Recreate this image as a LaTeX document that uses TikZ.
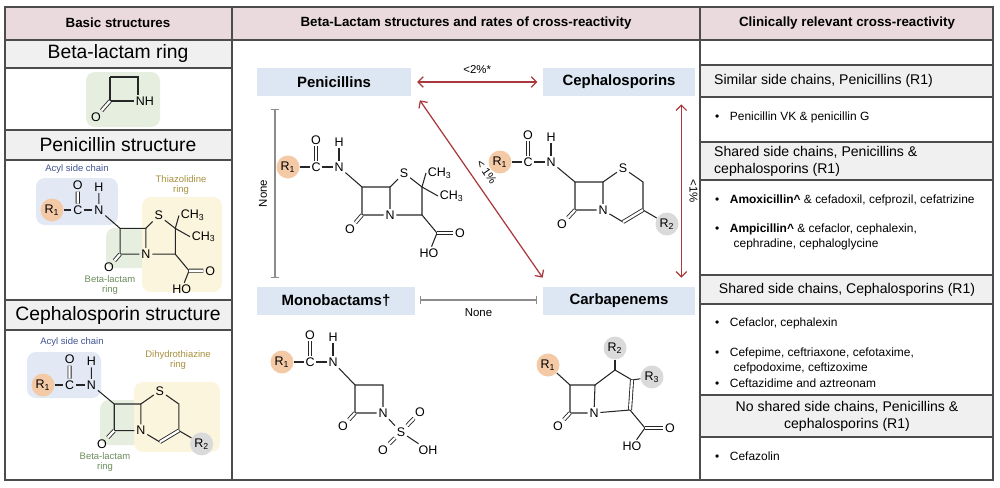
\documentclass[tikz,border=0pt]{standalone}
\usepackage{fontspec}
\setmainfont{Liberation Sans}
\usetikzlibrary{arrows.meta}
\colorlet{frm}{black!70}
\definecolor{hdrpink}{HTML}{EADADD}
\definecolor{rowgray}{HTML}{F0F0F0}
\definecolor{boxblue}{HTML}{DCE7F3}
\definecolor{rorange}{HTML}{F3C9A6}
\definecolor{rgray}{HTML}{DADADA}
\definecolor{arrred}{HTML}{A8383C}
\definecolor{hlblue}{HTML}{E2E9F5}
\definecolor{hlgreen}{HTML}{E6EFDF}
\definecolor{hlyellow}{HTML}{FBF5DE}
\definecolor{lblblue}{HTML}{3E5291}
\definecolor{lblolive}{HTML}{A88F3E}
\definecolor{lblgreen}{HTML}{6B8C5C}

\tikzset{
  atom/.style={font=\fontsize{7.1}{7.5}\selectfont,inner sep=0.9pt},
  bond/.style={line width=0.6pt,black!85},
  dbond/.style={bond,double,double distance=1.3pt,line width=0.5pt},
  rone/.style={circle,fill=rorange,minimum size=0.46cm,inner sep=0pt,font=\fontsize{7.1}{7.5}\selectfont},
  rtwo/.style={rone,fill=rgray},
  hdr/.style={font=\fontsize{7.6}{8}\selectfont\bfseries},
  ttl/.style={font=\fontsize{11}{12}\selectfont},
  clsbox/.style={fill=boxblue,minimum height=0.56cm,font=\fontsize{8.5}{9}\selectfont\bfseries},
  rtxt/.style={font=\fontsize{8}{9.6}\selectfont,align=left},
  btxt/.style={font=\fontsize{6.8}{8.2}\selectfont,anchor=west,align=left},
  lbl/.style={font=\fontsize{5.4}{6.2}\selectfont,align=center},
  albl/.style={text=black,font=\fontsize{6.5}{7}\selectfont},
  rarrow/.style={arrred,line width=0.7pt,{Straight Barb[length=3pt]}-{Straight Barb[length=3pt]}},
  garrow/.style={black!45,line width=0.6pt,{Bar[width=4pt]}-{Bar[width=4pt]}},
}

% R1-C(=O)-N(H)- side chain, R1 at the scope origin
\newcommand{\acylgroup}[1]{%
  \node[rone] (#1r) at (0,0) {R\textsubscript{1}};
  \node[atom] (#1c) at (28,0) {C};
  \node[atom] (#1n) at (51,0) {N};
  \node[atom] (#1o) at (28,-27) {O};
  \node[atom] (#1h) at (51,-25) {H};
  \draw[bond] (#1r) -- (#1c) -- (#1n);
  \draw[bond] (#1n) -- (#1h);
  \draw[dbond] (#1c) -- (#1o);
}
\newcommand{\penicillin}[3]{%
  \begin{scope}[shift={#2},scale=#3]
    \acylgroup{#1}
    \coordinate (#1a) at (74,20);
    \coordinate (#1b) at (102,20);
    \coordinate (#1d) at (74,48);
    \coordinate (#1q) at (134,20);
    \coordinate (#1e) at (134,48);
    \coordinate (#1f) at (149,66);
    \node[atom] (#1rn) at (102,48) {N};
    \node[atom] (#1ko) at (62,62) {O};
    \node[atom] (#1s) at (116,6) {S};
    \node[atom,anchor=west] (#1m) at (138,6) {CH\textsubscript{3}};
    \node[atom,anchor=west] (#1mm) at (150,29) {CH\textsubscript{3}};
    \node[atom] (#1co) at (172,66) {O};
    \node[atom] (#1oh) at (141,86) {HO};
    \draw[bond] (#1n) -- (#1a) -- (#1b) -- (#1rn) -- (#1d) -- (#1a);
    \draw[dbond] (#1d) -- (#1ko);
    \draw[bond] (#1b) -- (#1s) -- (#1q) -- (#1e) -- (#1rn);
    \draw[bond] (#1q) -- (#1m.west);
    \draw[bond] (#1q) -- (#1mm.west);
    \draw[bond] (#1e) -- (#1f) -- (#1oh);
    \draw[dbond] (#1f) -- (#1co);
  \end{scope}}
\newcommand{\cephalosporin}[3]{%
  \begin{scope}[shift={#2},scale=#3]
    \acylgroup{#1}
    \coordinate (#1a) at (75,20);
    \coordinate (#1b) at (103,20);
    \coordinate (#1d) at (75,48);
    \coordinate (#1g) at (143,20);
    \coordinate (#1j) at (143,48);
    \coordinate (#1k) at (123,60);
    \node[atom] (#1rn) at (103,48) {N};
    \node[atom] (#1ko) at (62,62) {O};
    \node[atom] (#1s) at (123,6) {S};
    \node[rtwo] (#1rr) at (167,62) {R\textsubscript{2}};
    \draw[bond] (#1n) -- (#1a) -- (#1b) -- (#1rn) -- (#1d) -- (#1a);
    \draw[dbond] (#1d) -- (#1ko);
    \draw[bond] (#1b) -- (#1s) -- (#1g) -- (#1j) -- (#1rr);
    \draw[bond] (#1rn) -- (#1k);
    \draw[dbond] (#1k) -- (#1j);
  \end{scope}}

\begin{document}
\begin{tikzpicture}[x=0.02cm,y=-0.02cm]
  \useasboundingbox (0,0) rectangle (1000,487);
  % table background and rules
  \fill[hdrpink] (5,7) rectangle (993,40);
  \fill[rowgray] (5,40) rectangle (232,68);
  \fill[rowgray] (5,130) rectangle (232,160);
  \fill[rowgray] (5,300) rectangle (232,330);
  \foreach \ya/\yb in {65/97,142/180,275/304,395/437}
    \fill[rowgray] (700,\ya) rectangle (993,\yb);
  \draw[frm,line width=0.9pt] (5,7) rectangle (993,480);
  \draw[frm,line width=0.9pt] (232,7) -- (232,480) (700,7) -- (700,480);
  \foreach \y in {40,68,130,160,300,330}
    \draw[frm,line width=0.8pt] (5,\y) -- (232,\y);
  \draw[frm,line width=0.8pt] (232,40) -- (700,40);
  \foreach \y in {40,65,97,142,180,275,304,395,437}
    \draw[frm,line width=0.8pt] (700,\y) -- (993,\y);

  % headers
  \node[hdr] (hbasic) at (118,23) {Basic structures};
  \node[hdr] (hmid) at (466,23) {Beta-Lactam structures and rates of cross-reactivity};
  \node[hdr] (hclin) at (847,23) {Clinically relevant cross-reactivity};

  % left column
  \node[ttl] (tring) at (118,54) {Beta-lactam ring};
  \node[ttl] (tpen) at (118,145) {Penicillin structure};
  \node[ttl] (tceph) at (118,315) {Cephalosporin structure};

  \fill[hlgreen,rounded corners=5pt] (86,72) rectangle (160,127);
  \coordinate (bla) at (110,77);
  \coordinate (blb) at (138,77);
  \coordinate (bld) at (110,101);
  \node[atom,anchor=west] (blnh) at (134,101) {NH};
  \node[atom] (blo) at (96,117) {O};
  \draw[bond] (bla) -- (blb) -- (blb |- blnh.north);
  \draw[bond] (blnh.west) -- (bld) -- (bla);
  \draw[dbond] (bld) -- (blo);

  \fill[hlblue,rounded corners=5pt] (36,178) rectangle (118,225);
  \fill[hlgreen,rounded corners=5pt] (106,228) rectangle (150,268);
  \fill[hlyellow,rounded corners=5pt] (142,197) rectangle (222,292);
  \node[lbl,text=lblblue] (lacylp) at (77,169) {Acyl side chain};
  \node[lbl,text=lblolive] (lthia) at (181,185) {Thiazolidine\\ring};
  \node[lbl,text=lblgreen] (lbetap) at (110,285) {Beta-lactam\\ring};
  \penicillin{lp}{(52,210)}{0.92}

  \fill[hlblue,rounded corners=5pt] (27,352) rectangle (101,398);
  \fill[hlgreen,rounded corners=5pt] (100,400) rectangle (143,445);
  \fill[hlyellow,rounded corners=5pt] (134,382) rectangle (220,452);
  \node[lbl,text=lblblue] (lacylc) at (72,342) {Acyl side chain};
  \node[lbl,text=lblolive] (ldihy) at (178,360) {Dihydrothiazine\\ring};
  \node[lbl,text=lblgreen] (lbetac) at (105,462) {Beta-lactam\\ring};
  \cephalosporin{lc}{(43,385)}{0.95}

  % middle column
  \node[clsbox,minimum width=3.1cm] (pen) at (334,82) {Penicillins};
  \node[clsbox,minimum width=3.04cm] (ceph) at (619,82) {Cephalosporins};
  \node[clsbox,minimum width=3.16cm] (mono) at (336,301) {Monobactams†};
  \node[clsbox,minimum width=3.04cm] (carb) at (619,301) {Carbapenems};

  \draw[rarrow,shorten <=3pt,shorten >=3pt] (pen) -- node[albl,above=1pt] {<2\%*} (ceph);
  \draw[rarrow] ([xshift=8*0.02cm,yshift=-4*0.02cm]pen.south east) -- node[albl,sloped,above=2pt,pos=0.45] {< 1\%} ([yshift=9*0.02cm]carb.north west);
  \draw[rarrow] ([xshift=-14*0.02cm,yshift=-8*0.02cm]ceph.south east) -- node[albl,rotate=-90,above=1pt,pos=0.5] {<1\%} ([xshift=-14*0.02cm,yshift=9*0.02cm]carb.north east);
  \draw[garrow] ([xshift=-59*0.02cm,yshift=-13*0.02cm]pen.south) -- node[albl,rotate=90,above=1pt] {None} ([xshift=-61*0.02cm,yshift=9*0.02cm]mono.north);
  \draw[garrow] ([xshift=5*0.02cm,yshift=1*0.02cm]mono.east) -- node[albl,below=1pt] {None} ([xshift=-6*0.02cm,yshift=1*0.02cm]carb.west);

  \penicillin{mp}{(288,167)}{1}
  \cephalosporin{mc}{(500,162)}{1}

  % monobactam
  \begin{scope}[shift={(282,362)}]
    \acylgroup{mb}
    \coordinate (mba) at (73,23);
    \coordinate (mbb) at (101,23);
    \coordinate (mbd) at (73,51);
    \node[atom] (mbrn) at (101,51) {N};
    \node[atom] (mbko) at (61,64) {O};
    \node[atom] (mbs) at (119,70) {S};
    \node[atom] (mbo1) at (138,50) {O};
    \node[atom] (mbo2) at (101,88) {O};
    \node[atom] (mboh) at (146,88) {OH};
    \draw[bond] (mbn) -- (mba) -- (mbb) -- (mbrn) -- (mbd) -- (mba);
    \draw[dbond] (mbd) -- (mbko);
    \draw[bond] (mbrn) -- (mbs) -- (mboh);
    \draw[dbond] (mbs) -- (mbo1);
    \draw[dbond] (mbs) -- (mbo2);
  \end{scope}

  % carbapenem
  \begin{scope}[shift={(548,365)}]
    \node[rone] (cbr) at (0,0) {R\textsubscript{1}};
    \coordinate (cba) at (22,20);
    \coordinate (cbb) at (47,20);
    \coordinate (cbd) at (22,48);
    \coordinate (cbt) at (67,5);
    \coordinate (cbu) at (84,15);
    \coordinate (cbv) at (82,45);
    \coordinate (cbf) at (97,63);
    \node[atom] (cbrn) at (46,48) {N};
    \node[atom] (cbko) at (10,61) {O};
    \node[rtwo] (cbr2) at (67,-17) {R\textsubscript{2}};
    \node[rtwo] (cbr3) at (104,12) {R\textsubscript{3}};
    \node[atom] (cbco) at (122,63) {O};
    \node[atom] (cboh) at (84,81) {HO};
    \draw[bond] (cbr) -- (cba) -- (cbb) -- (cbrn) -- (cbd) -- (cba);
    \draw[dbond] (cbd) -- (cbko);
    \draw[bond] (cbb) -- (cbt) -- (cbu) -- (cbr3);
    \draw[bond] (cbt) -- (cbr2);
    \draw[dbond] (cbu) -- (cbv);
    \draw[bond] (cbv) -- (cbrn);
    \draw[bond] (cbv) -- (cbf) -- (cboh);
    \draw[dbond] (cbf) -- (cbco);
  \end{scope}

  % right column
  \node[rtxt,anchor=west] (rsim) at (708,81) {Similar side chains, Penicillins (R1)};
  \node[btxt] (b1) at (709,117) {•\hspace{6pt}Penicillin VK \& penicillin G};
  \node[rtxt,anchor=west] (rsh1) at (708,161) {Shared side chains, Penicillins \&\\cephalosporins (R1)};
  \node[btxt] (b2) at (709,200) {•\hspace{6pt}\textbf{Amoxicillin\textasciicircum} \& cefadoxil, cefprozil, cefatrizine};
  \node[btxt] (b3) at (709,237) {•\hspace{6pt}\textbf{Ampicillin\textasciicircum} \& cefaclor, cephalexin,\\\hspace{10.5pt}cephradine, cephaloglycine};
  \node[rtxt,anchor=center] (rsh2) at (847,290) {Shared side chains, Cephalosporins (R1)};
  \node[btxt] (b4) at (709,323) {•\hspace{6pt}Cefaclor, cephalexin};
  \node[btxt] (b5) at (709,361) {•\hspace{6pt}Cefepime, ceftriaxone, cefotaxime,\\\hspace{10.5pt}cefpodoxime, ceftizoxime};
  \node[btxt] (b6) at (709,383) {•\hspace{6pt}Ceftazidime and aztreonam};
  \node[rtxt,align=center] (rno) at (847,416) {No shared side chains, Penicillins \&\\cephalosporins (R1)};
  \node[btxt] (b7) at (709,456) {•\hspace{6pt}Cefazolin};
\end{tikzpicture}
\end{document}
